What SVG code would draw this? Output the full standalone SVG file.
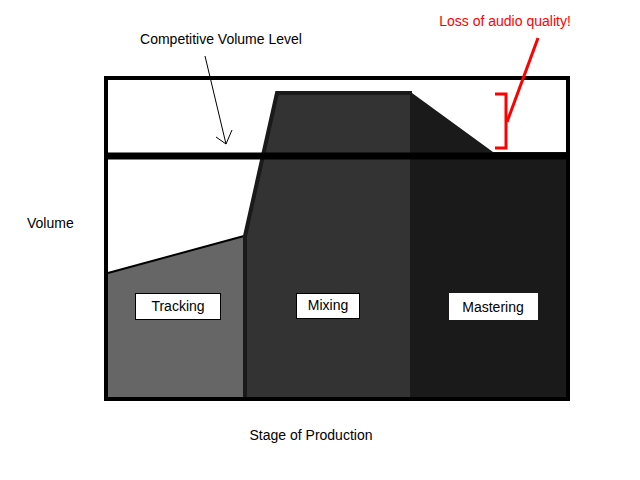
<svg xmlns="http://www.w3.org/2000/svg" width="640" height="480" viewBox="0 0 640 480">
<style>
text{font-family:"Liberation Sans",Arial,sans-serif;font-size:14px;fill:#000}
.lbl{fill:#fff;stroke:#000;stroke-width:1}
</style>
<rect x="0" y="0" width="640" height="480" fill="#fff"/>
<g id="areas">
<polygon points="108,273 244,236 244,399 108,399" fill="#666"/>
<polygon points="245,236 277,93 412,93 412,399 245,399" fill="#333"/>
<polygon points="410,93 412,93 493,152 568,152 568,399 410,399" fill="#1a1a1a"/>
<line x1="108" y1="273" x2="244" y2="236" stroke="#000" stroke-width="2"/>
<polyline points="245,399 245,236 277,93 412,93" fill="none" stroke="#1a1a1a" stroke-width="4"/>
</g>
<g id="frame">
<rect x="106" y="78" width="462" height="321" fill="none" stroke="#000" stroke-width="4"/>
<line x1="106" y1="156" x2="568" y2="156" stroke="#000" stroke-width="7"/>
</g>
<g id="connectors">
<line x1="205" y1="56" x2="226" y2="144" stroke="#000" stroke-width="1"/>
<polyline points="216,137 226,144 232,130" fill="none" stroke="#000" stroke-width="1"/>
<polyline points="495,94 506,94 506,148 495,148" fill="none" stroke="#f00" stroke-width="3"/>
<line x1="507" y1="122" x2="538" y2="38" stroke="#f00" stroke-width="3"/>
</g>
<g id="tracking"><rect class="lbl" x="135.500" y="293.500" width="85" height="26"/><text x="178" y="311" text-anchor="middle">Tracking</text></g>
<g id="mixing"><rect class="lbl" x="296.500" y="293.500" width="63" height="25"/><text x="328" y="310" text-anchor="middle">Mixing</text></g>
<g id="mastering"><rect x="449" y="293" width="89" height="27" fill="#fff"/><text x="493" y="312" text-anchor="middle">Mastering</text></g>
<text x="221" y="44" text-anchor="middle">Competitive Volume Level</text>
<text x="505" y="26" text-anchor="middle" style="fill:#f00">Loss of audio quality!</text>
<text x="27" y="228">Volume</text>
<text x="311" y="440" text-anchor="middle">Stage of Production</text>
</svg>
